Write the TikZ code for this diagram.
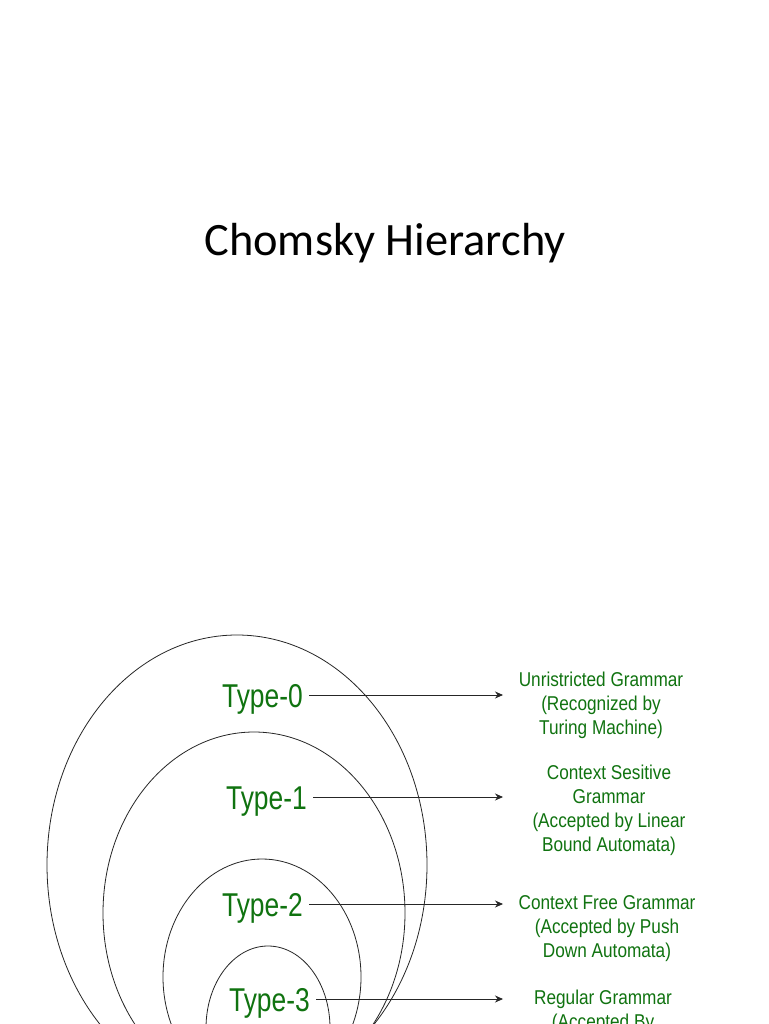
\documentclass[tikz,border=0pt]{standalone}
\usepackage{fontspec}
\setmainfont{Liberation Sans}
\newfontfamily\titlefont{Carlito}
\newfontfamily\lblfont[FakeStretch=0.86]{Liberation Sans}
\newfontfamily\typefont[FakeStretch=0.8]{Liberation Sans}
\usetikzlibrary{arrows.meta}
\definecolor{gr}{RGB}{16,115,16}
\begin{document}
\begin{tikzpicture}[x=1pt,y=-1pt,
  ring/.style={draw=black!85, line width=0.8pt},
  typelbl/.style={text=gr, font=\typefont\fontsize{33}{40}\selectfont, inner sep=0pt, anchor=base east},
  gram/.style={text=gr, font=\lblfont\fontsize{20}{24}\selectfont, align=center, inner sep=0pt, anchor=base},
  link/.style={draw=black!85, line width=0.8pt, -{Stealth[length=8pt,width=7pt]}}]
\path[use as bounding box, clip] (0,0) rectangle (768,1024);
\fill[white] (0,0) rectangle (768,1024);

\node[font=\titlefont\fontsize{46.4}{56}\selectfont, anchor=base, inner sep=0pt] (title) at (385,255) {Chomsky Hierarchy};

% nested ellipses
\draw[ring] (237,865) ellipse [x radius=190pt, y radius=230pt];
\draw[ring] (254,913) ellipse [x radius=151pt, y radius=181pt];
\draw[ring] (262,977) ellipse [x radius=99pt, y radius=118pt];
\draw[ring] (268,1028) ellipse [x radius=62pt, y radius=82pt];

% type labels
\node[typelbl] (t0) at (303,707) {Type-0};
\node[typelbl] (t1) at (307,809) {Type-1};
\node[typelbl] (t2) at (303,916) {Type-2};
\node[typelbl] (t3) at (310,1011) {Type-3};

% grammar descriptions (anchor = baseline of last line)
\node[gram] (g0) at (601,734) {Unristricted Grammar\\(Recognized by\\Turing Machine)};
\node[gram] (g1) at (609,851) {Context Sesitive\\Grammar\\(Accepted by Linear\\Bound Automata)};
\node[gram] (g2) at (607,957) {Context Free Grammar\\(Accepted by Push\\Down Automata)};
\node[gram] (g3) at (603,1028) {Regular Grammar\\(Accepted By};

% arrow ends
\coordinate (e0) at (503,695);
\coordinate (e1) at (503,797);
\coordinate (e2) at (503,904);
\coordinate (e3) at (503,999);

\draw[link] ([shift={(6,-12)}]t0.base east) -- (e0);
\draw[link] ([shift={(6,-12)}]t1.base east) -- (e1);
\draw[link] ([shift={(6,-12)}]t2.base east) -- (e2);
\draw[link] ([shift={(6,-12)}]t3.base east) -- (e3);
\end{tikzpicture}
\end{document}
